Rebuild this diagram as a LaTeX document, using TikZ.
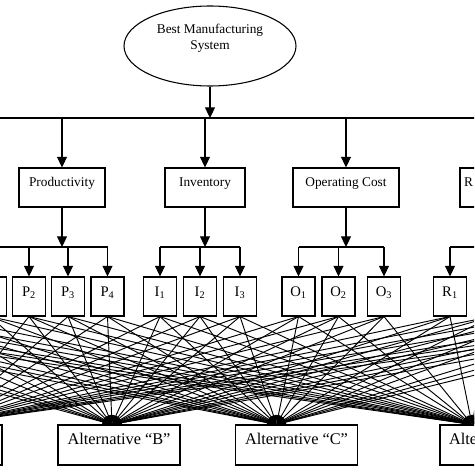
\documentclass[tikz,border=0pt]{standalone}
\usepackage{fontspec}
\setmainfont{Liberation Serif}
\usetikzlibrary{arrows.meta,shapes.geometric}
\begin{document}
\begin{tikzpicture}[x=0.75pt,y=-0.75pt,
  every node/.style={font=\fontsize{10}{12}\selectfont},
  box/.style={draw, line width=0.8pt, rectangle, inner sep=0pt},
  crit/.style={box, minimum height=29.25pt, text height=7pt, text depth=8pt},
  subc/.style={box, minimum width=24.75pt, minimum height=29.25pt, font=\fontsize{11}{13}\selectfont, text height=7.5pt, text depth=8pt},
  alt/.style={box, minimum width=91.5pt, minimum height=30pt, font=\fontsize{12.25}{14}\selectfont, text height=8.5pt, text depth=9.5pt},
  big/.style={draw, line width=0.8pt, -{Triangle[width=7.5pt,length=8pt]}},
  link/.style={draw, line width=0.7pt, -{Triangle[width=3.5pt,length=7pt]}},
  barline/.style={draw, line width=0.8pt}
]
\useasboundingbox (0,0) rectangle (474,474);
\clip (0,0) rectangle (474,474);

% goal
\node[draw, ellipse, line width=0.8pt, minimum width=129pt, minimum height=60pt] (bms) at (210,46) {};
\node[align=center] (bmstext) at (210,38) {Best Manufacturing\\System};
\coordinate (busL) at (-400,118);
\coordinate (busR) at (900,118);
\draw[barline] (busL) -- (busR);
\draw[big] (bms.south) -- (bms.south |- busL);

% criteria
\node[crit, minimum width=64.5pt] (prod) at (62,187.5) {Productivity};
\node[crit, minimum width=60pt] (inv) at (205,187.5) {Inventory};
\node[crit, minimum width=79.5pt] (opc) at (346,187.5) {Operating Cost};
\node[crit, minimum width=75pt, text width=69pt, align=left] (rel) at (510,187.5) {R};
\foreach \c in {prod,inv,opc,rel}
  \draw[big] (\c.north |- busL) -- (\c.north);

% sub-criteria
\foreach \n/\x/\l in {P2/29/P\textsubscript{2}, P3/68/P\textsubscript{3}, P4/107.5/P\textsubscript{4},
  I1/160/I\textsubscript{1}, I2/200/I\textsubscript{2}, I3/240/I\textsubscript{3},
  O1/298.5/O\textsubscript{1}, O2/338.5/O\textsubscript{2}, O3/384/O\textsubscript{3},
  R1/450/R\textsubscript{1}}
  \node[subc] (\n) at (\x,296.5) {\l};
% sub-criteria whose labels lie outside the visible frame
\foreach \n/\x in {P1/-10, R2/492, R3/532, R4/572, F1/630, F2/670, F3/710,
  Q1/-65, Q2/-105, Q3/-145, Q4/-200, Q5/-240, Q6/-280}
  \node[subc] (\n) at (\x,296.5) {};

% bars under criteria
\coordinate (barY) at (0,247);
\draw[big] (prod.south) -- (prod.south |- barY);
\draw[barline] (P1.north |- barY) -- (P4.north |- barY);
\foreach \s in {P1,P2,P3,P4} \draw[big] (\s.north |- barY) -- (\s.north);
\draw[big] (inv.south) -- (inv.south |- barY);
\draw[barline] (I1.north |- barY) -- (I3.north |- barY);
\foreach \s in {I1,I2,I3} \draw[big] (\s.north |- barY) -- (\s.north);
\draw[big] (opc.south) -- (opc.south |- barY);
\draw[barline] (O1.north |- barY) -- (O3.north |- barY);
\foreach \s in {O1,O2,O3} \draw[big] (\s.north |- barY) -- (\s.north);
\draw[big] (rel.south) -- (rel.south |- barY);
\draw[barline] (R1.north |- barY) -- (R4.north |- barY);
\foreach \s in {R1,R2,R3,R4} \draw[big] (\s.north |- barY) -- (\s.north);

% alternatives
\node[alt] (altA) at (-59,445) {};
\node[alt] (altB) at (119,445) {Alternative “B”};
\node[alt] (altC) at (296.5,445) {Alternative “C”};
\node[alt] (altD) at (501,445) {Alternative “D”};
\coordinate (tA) at ([xshift=1.5pt]altA.north);
\coordinate (tB) at ([xshift=-5.25pt]altB.north);
\coordinate (tC) at ([xshift=-15pt]altC.north);
\coordinate (tD) at ([xshift=-21.75pt]altD.north);

% links
\foreach \s in {Q6,Q5,Q4,Q3,Q2,Q1,P1,P2,P3,P4,I1,I2,I3,O1,O2,O3,R1,R2,R3,R4,F1,F2,F3}
  \foreach \t in {tA,tB,tC,tD}
    \draw[link] (\s.south) -- (\t);
\end{tikzpicture}
\end{document}
